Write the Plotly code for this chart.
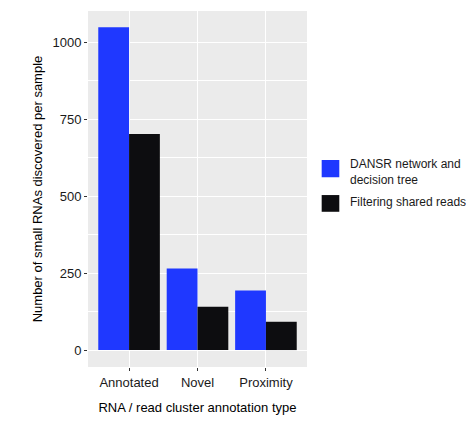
import plotly.graph_objects as go

categories = ["Annotated", "Novel", "Proximity"]
dansr = [1049, 265, 194]
filtering = [702, 141, 92]
series_names = ["DANSR network and<br>decision tree", "Filtering shared reads"]
colors = ["#1f38ff", "#0d0d10"]
y_ticks = [0, 250, 500, 750, 1000]

fig = go.Figure()
fig.add_trace(go.Bar(x=categories, y=dansr, name=series_names[0],
                     marker=dict(color=colors[0], line=dict(width=0))))
fig.add_trace(go.Bar(x=categories, y=filtering, name=series_names[1],
                     marker=dict(color=colors[1], line=dict(width=0))))

font = "Liberation Sans, Arial, sans-serif"

# manual legend (ggplot-style large keys)
legend_keys = [(0.533, 0.5815, 0.548), (0.436, 0.483, 0.4635)]
for (y0, y1, ty), name, col in zip(legend_keys, series_names, colors):
    fig.add_shape(type="rect", xref="paper", yref="paper", x0=1.067, x1=1.1475,
                  y0=y0, y1=y1, fillcolor=col, line=dict(width=0))
    fig.add_annotation(xref="paper", yref="paper", x=1.187, y=ty, text=name,
                       showarrow=False, xanchor="left", yanchor="middle", align="left",
                       font=dict(family=font, size=12, color="#1a1a1a"))

fig.update_layout(
    width=458, height=415,
    margin=dict(l=80, r=159, t=3, b=56, autoexpand=False),
    paper_bgcolor="white",
    plot_bgcolor="#ebebeb",
    barmode="group", bargap=0.1, bargroupgap=0,
    font=dict(family=font, size=12, color="#1a1a1a"),
    showlegend=False,
    xaxis=dict(range=[-0.6, 2.6], showgrid=True, gridcolor="white", gridwidth=1.2,
               ticks="outside", ticklen=3, tickcolor="#333333",
               tickfont=dict(size=13, color="#1a1a1a"),
               title=dict(text="RNA / read cluster annotation type",
                          font=dict(size=13, color="#000000"), standoff=14),
               zeroline=False, showline=False, automargin=False),
    yaxis=dict(range=[-55, 1102], tickvals=y_ticks, ticktext=[str(v) for v in y_ticks],
               showgrid=True, gridcolor="white", gridwidth=1.2,
               minor=dict(tickvals=[125, 375, 625, 875, 1125, -125], showgrid=True,
                          gridcolor="white", gridwidth=0.6),
               ticks="outside", ticklen=3, tickcolor="#333333",
               tickfont=dict(size=13, color="#1a1a1a"),
               title=dict(text="Number of small RNAs discovered per sample",
                          font=dict(size=13, color="#000000"), standoff=6),
               zeroline=False, showline=False, automargin=False),
)

fig.write_html("out.html")
